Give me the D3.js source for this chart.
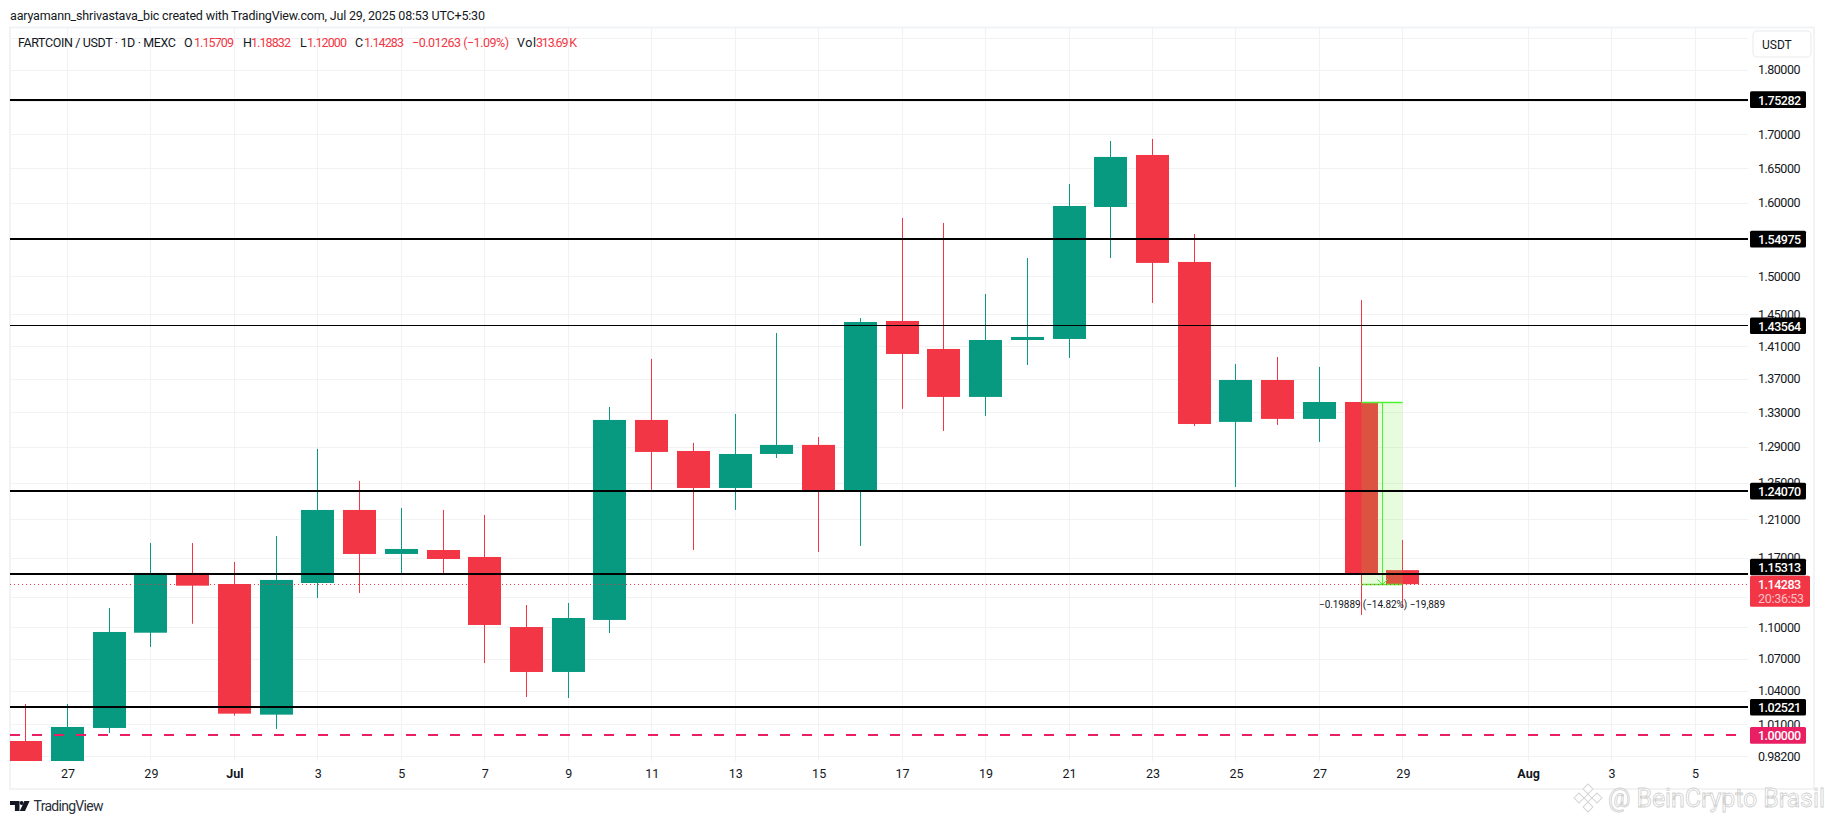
<!DOCTYPE html>
<html>
<head>
<meta charset="utf-8">
<script src="https://cdn.jsdelivr.net/npm/d3@7"></script>
<style>
  html, body { margin: 0; padding: 0; background: #fff; }
  svg { display: block; font-family: Roboto, sans-serif; }
</style>
</head>
<body>
<svg id="chart" width="1825" height="824"></svg>
<script>
const dates = [
  '2025-06-26', '2025-06-27', '2025-06-28', '2025-06-29', '2025-06-30', '2025-07-01', '2025-07-02',
  '2025-07-03', '2025-07-04', '2025-07-05', '2025-07-06', '2025-07-07', '2025-07-08', '2025-07-09',
  '2025-07-10', '2025-07-11', '2025-07-12', '2025-07-13', '2025-07-14', '2025-07-15', '2025-07-16',
  '2025-07-17', '2025-07-18', '2025-07-19', '2025-07-20', '2025-07-21', '2025-07-22', '2025-07-23',
  '2025-07-24', '2025-07-25', '2025-07-26', '2025-07-27', '2025-07-28', '2025-07-29'
]
const opens = [
  0.9951, 0.953, 1.0066, 1.0949, 1.1542, 1.143, 1.0185,
  1.144, 1.2202, 1.1737, 1.1778, 1.1706, 1.1004, 1.0576,
  1.1073, 1.3211, 1.2854, 1.2441, 1.282, 1.2923, 1.2408,
  1.4417, 1.4065, 1.3482, 1.4177, 1.419, 1.5943, 1.6692,
  1.5188, 1.3188, 1.3685, 1.3223, 1.3422, 1.15709
]
const highs = [
  1.0281, 1.0281, 1.119, 1.1851, 1.1851, 1.1654, 1.1925,
  1.2877, 1.2519, 1.2223, 1.2202, 1.2148, 1.122, 1.124,
  1.3363, 1.3942, 1.2946, 1.3281, 1.4265, 1.3014, 1.4455,
  1.5789, 1.572, 1.4765, 1.5241, 1.627, 1.69, 1.693,
  1.5568, 1.388, 1.3966, 1.3844, 1.4687, 1.18832
]
const lows = [
  0.9446, 0.9446, 1.0021, 1.0812, 1.1036, 1.0176, 1.0057,
  1.129, 1.134, 1.1531, 1.1531, 1.066, 1.0345, 1.0336,
  1.0946, 1.242, 1.1778, 1.2202, 1.2775, 1.1758, 1.182,
  1.334, 1.3083, 1.3258, 1.3868, 1.3954, 1.5241, 1.4648,
  1.3141, 1.2452, 1.3153, 1.2957, 1.1122, 1.12
]
const closes = [
  0.953, 1.0075, 1.0956, 1.1542, 1.1413, 1.0194, 1.1471,
  1.2202, 1.1737, 1.1789, 1.1685, 1.1024, 1.0576, 1.1092,
  1.3211, 1.2843, 1.2441, 1.282, 1.2923, 1.2408, 1.4404,
  1.4003, 1.3482, 1.4177, 1.4215, 1.5957, 1.6663, 1.5175,
  1.3164, 1.3685, 1.3223, 1.3422, 1.1531, 1.14283
]

const priceTicks = [
  0.982, 1.01, 1.04, 1.07, 1.1, 1.13, 1.17, 1.21, 1.25, 1.29, 1.33,
  1.37, 1.41, 1.45, 1.5, 1.55, 1.6, 1.65, 1.7, 1.75, 1.8, 1.85
]
// these ticks keep their grid line but their label sits fully behind a tag
const hiddenTickLabels = [1.13, 1.55, 1.75, 1.85]
const dateTicks = [
  '2025-06-27', '2025-06-29', '2025-07-01', '2025-07-03', '2025-07-05', '2025-07-07', '2025-07-09',
  '2025-07-11', '2025-07-13', '2025-07-15', '2025-07-17', '2025-07-19', '2025-07-21', '2025-07-23',
  '2025-07-25', '2025-07-27', '2025-07-29', '2025-08-01', '2025-08-03', '2025-08-05'
]

const levels = [1.75282, 1.54975, 1.43564, 1.2407, 1.15313, 1.02521]
const lastPrice = 1.14283
const countdown = '20:36:53'
const psychLevel = 1

const measureFrom = 1.34172
const measureTo = 1.14283
const measureDates = ['2025-07-28', '2025-07-29']
const measureLabel = '\u22120.19889 (\u221214.82%) \u221219,889'

const legendLabels = [
  'O', '1.15709', 'H', '1.18832', 'L', '1.12000', 'C', '1.14283',
  '\u22120.01263 (\u22121.09%)', 'Vol', '313.69 K'
]

// layout and styles
const RED = '#F23645'
const GREEN = '#089981'
const GRID = '#f1f2f4'
const TEXT = '#131722'
const PINK = '#E91E63'
const MEASURE = '#4df22f'
const plotLeft = 10, plotRight = 1748, plotTop = 27, plotBottom = 761
const levelWeights = [2, 2, 1, 2, 2, 2]
const levelTagShift = [0, 0, 0, 0, -7, 0] // tag is pushed up clear of the last price tag
const legendX = [184, 194, 243, 251, 300, 307, 355, 364, 412, 517, 536]
const legendW = [9, 40, 8, 40, 6, 40, 8, 40, 97, 19, 41]
const legendRed = [1, 3, 5, 7, 8, 10]

const parse = d3.utcParse('%Y-%m-%d')

const x = d3.scaleUtc()
  .domain([parse('2025-06-26'), parse('2025-08-01')])
  .range([25.2, 1527.6])
const y = d3.scaleLog()
  .domain([0.982, 1.8])
  .range([756, 69.5])

const candles = dates.map((d, i) => ({
  date: parse(d), o: opens[i], h: highs[i], l: lows[i], c: closes[i]
}))

const svg = d3.select('#chart')

svg.append('defs').append('clipPath').attr('id', 'plot')
  .append('rect')
  .attr('x', plotLeft).attr('y', plotTop)
  .attr('width', plotRight - plotLeft).attr('height', plotBottom - plotTop)

// outer frame
svg.append('rect')
  .attr('x', 10).attr('y', 27.5)
  .attr('width', 1804).attr('height', 761.5)
  .attr('fill', 'none')
  .attr('stroke', '#f2f3f5')
  .attr('stroke-width', 2)

// grid
const grid = svg.append('g').attr('clip-path', 'url(#plot)')
grid.selectAll('.h').data(priceTicks).enter().append('line')
  .attr('x1', plotLeft).attr('x2', plotRight)
  .attr('y1', d => Math.round(y(d)) + 0.5).attr('y2', d => Math.round(y(d)) + 0.5)
  .attr('stroke', GRID)
grid.selectAll('.v').data(dateTicks).enter().append('line')
  .attr('y1', plotTop).attr('y2', plotBottom)
  .attr('x1', d => Math.round(x(parse(d))) + 0.5).attr('x2', d => Math.round(x(parse(d))) + 0.5)
  .attr('stroke', GRID)

// candles
const plot = svg.append('g').attr('clip-path', 'url(#plot)')
const colour = d => (d.c >= d.o ? GREEN : RED)
plot.selectAll('.wick').data(candles).enter().append('line')
  .attr('class', 'wick')
  .attr('x1', d => Math.round(x(d.date)) + 0.5).attr('x2', d => Math.round(x(d.date)) + 0.5)
  .attr('y1', d => y(d.h)).attr('y2', d => y(d.l))
  .attr('stroke', colour)
plot.selectAll('.body').data(candles).enter().append('rect')
  .attr('class', 'body')
  .attr('x', d => Math.round(x(d.date)) - 16)
  .attr('width', 33)
  .attr('y', d => y(Math.max(d.o, d.c)))
  .attr('height', d => y(Math.min(d.o, d.c)) - y(Math.max(d.o, d.c)))
  .attr('fill', colour)

// measure tool
const mx1 = Math.round(x(parse(measureDates[0]))) + 0.5
const mx2 = Math.round(x(parse(measureDates[1]))) + 0.5
const mid = Math.floor((mx1 + mx2) / 2) + 0.5
const my1 = Math.round(y(measureFrom)) + 0.5
const my2 = Math.round(y(measureTo)) + 0.5
const measure = svg.append('g')
measure.append('rect')
  .attr('x', mx1).attr('y', my1)
  .attr('width', mx2 - mx1).attr('height', my2 - my1)
  .attr('fill', 'rgba(110,240,50,0.17)')
measure.selectAll('line.edge').data([my1, my2]).enter().append('line')
  .attr('x1', mx1).attr('x2', mx2)
  .attr('y1', d => d).attr('y2', d => d)
  .attr('stroke', MEASURE)
  .attr('stroke-width', 1.5)
measure.append('line')
  .attr('x1', mid).attr('x2', mid)
  .attr('y1', my1).attr('y2', my2)
  .attr('stroke', MEASURE)
measure.append('path')
  .attr('d', d3.line()([[mid - 5, my2 - 5], [mid, my2], [mid + 5, my2 - 5]]))
  .attr('fill', 'none')
  .attr('stroke', MEASURE)
measure.append('text')
  .attr('x', 1319).attr('y', my2 + 20)
  .attr('dominant-baseline', 'central')
  .attr('textLength', 126)
  .attr('font-size', 10)
  .attr('fill', TEXT)
  .text(measureLabel)

// levels
const crisp = (v, w) => (w % 2 ? Math.floor(v) + 0.5 : Math.round(v))
svg.selectAll('.level').data(levels).enter().append('line')
  .attr('class', 'level')
  .attr('x1', plotLeft).attr('x2', plotRight)
  .attr('y1', (d, i) => crisp(y(d), levelWeights[i]))
  .attr('y2', (d, i) => crisp(y(d), levelWeights[i]))
  .attr('stroke', '#000')
  .attr('stroke-width', (d, i) => levelWeights[i])
svg.append('line')
  .attr('x1', plotLeft).attr('x2', plotRight)
  .attr('y1', crisp(y(lastPrice), 1)).attr('y2', crisp(y(lastPrice), 1))
  .attr('stroke', RED)
  .attr('stroke-dasharray', '1,3')
svg.append('line')
  .attr('x1', plotLeft).attr('x2', plotRight)
  .attr('y1', crisp(y(psychLevel), 2)).attr('y2', crisp(y(psychLevel), 2))
  .attr('stroke', PINK)
  .attr('stroke-width', 2)
  .attr('stroke-dasharray', '10,12')

// price axis
const priceAxis = d3.axisRight(y)
  .tickValues(priceTicks.filter(d => !hiddenTickLabels.includes(d)))
  .tickFormat(d3.format('.5f'))
  .tickSize(0)
  .tickPadding(0)
const axisG = svg.append('g')
  .attr('transform', 'translate(1758,0)')
  .call(priceAxis)
axisG.select('.domain').remove()
axisG.selectAll('text')
  .attr('font-family', 'Roboto, sans-serif')
  .attr('font-size', 12.5)
  .attr('letter-spacing', '-0.5')
  .attr('fill', TEXT)

// time axis
const dateLabel = d => {
  const t = d3.utcFormat('%-d')(d)
  if (t === '1') return d3.utcFormat('%b')(d)
  return t
}
const timeAxis = d3.axisBottom(x)
  .tickValues(dateTicks.map(parse))
  .tickFormat(dateLabel)
  .tickSize(0)
  .tickPadding(0)
const timeG = svg.append('g')
  .attr('transform', 'translate(0.5,769.5)')
  .call(timeAxis)
timeG.select('.domain').remove()
timeG.selectAll('text')
  .attr('font-family', 'Roboto, sans-serif')
  .attr('font-size', 12.5)
  .attr('font-weight', d => (d.getUTCDate() === 1 ? 700 : 400))
  .attr('fill', TEXT)

// value tags on the price axis
const tag = (value, fill, shift) => {
  const cy = y(value) + shift
  svg.append('rect')
    .attr('x', 1750).attr('y', cy - 8.3)
    .attr('width', 56).attr('height', 16.6)
    .attr('rx', 1.5)
    .attr('fill', fill)
  svg.append('text')
    .attr('x', 1758).attr('y', cy + 0.5)
    .attr('dominant-baseline', 'central')
    .attr('font-size', 12.5)
    .attr('font-weight', 500)
    .attr('letter-spacing', '-0.5')
    .attr('fill', '#fff')
    .text(d3.format('.5f')(value))
}
levels.forEach((d, i) => tag(d, '#000', levelTagShift[i]))
tag(psychLevel, PINK, 0)

const lastY = y(lastPrice)
svg.append('rect')
  .attr('x', 1750).attr('y', lastY - 8.5)
  .attr('width', 60).attr('height', 31)
  .attr('rx', 1.5)
  .attr('fill', RED)
svg.append('text')
  .attr('x', 1758).attr('y', lastY + 0.5)
  .attr('dominant-baseline', 'central')
  .attr('font-size', 12.5)
  .attr('font-weight', 500)
  .attr('letter-spacing', '-0.5')
  .attr('fill', '#fff')
  .text(d3.format('.5f')(lastPrice))
svg.append('text')
  .attr('x', 1758).attr('y', lastY + 14)
  .attr('dominant-baseline', 'central')
  .attr('font-size', 12.5)
  .attr('letter-spacing', '-0.3')
  .attr('fill', 'rgba(255,255,255,0.7)')
  .text(countdown)

// currency button
svg.append('rect')
  .attr('x', 1753).attr('y', 31)
  .attr('width', 58).attr('height', 26)
  .attr('rx', 4)
  .attr('fill', '#fff')
  .attr('stroke', '#f0f1f4')
  .attr('stroke-width', 1.5)
svg.append('text')
  .attr('x', 1762).attr('y', 44.5)
  .attr('dominant-baseline', 'central')
  .attr('font-size', 12)
  .attr('fill', TEXT)
  .text('USDT')

// header and legend
svg.append('text')
  .attr('x', 10).attr('y', 15)
  .attr('dominant-baseline', 'central')
  .attr('textLength', 475)
  .attr('font-size', 12.5)
  .attr('fill', TEXT)
  .text('aaryamann_shrivastava_bic created with TradingView.com, Jul 29, 2025 08:53 UTC+5:30')
svg.append('text')
  .attr('x', 18).attr('y', 42)
  .attr('dominant-baseline', 'central')
  .attr('textLength', 158)
  .attr('font-size', 12.5)
  .attr('fill', TEXT)
  .text('FARTCOIN / USDT \u00b7 1D \u00b7 MEXC')
svg.selectAll('.legend').data(legendLabels).enter().append('text')
  .attr('class', 'legend')
  .attr('x', (d, i) => legendX[i]).attr('y', 42)
  .attr('dominant-baseline', 'central')
  .attr('textLength', (d, i) => legendW[i])
  .attr('font-size', 12.5)
  .attr('fill', (d, i) => (legendRed.includes(i) ? RED : TEXT))
  .text(d => d)

// TradingView logo
svg.append('path')
  .attr('d', 'M10 801h9.5v10h-4.6v-6H10z M29.6 801l-4.6 10h-5.2l4.6-10z')
  .attr('fill', '#131722')
svg.append('circle')
  .attr('cx', 21.6).attr('cy', 803).attr('r', 2)
  .attr('fill', '#131722')
svg.append('text')
  .attr('x', 33.5).attr('y', 806)
  .attr('dominant-baseline', 'central')
  .attr('textLength', 70)
  .attr('font-size', 14)
  .attr('fill', '#2a2e39')
  .text('TradingView')

// watermark
const mark = svg.append('g').attr('transform', 'translate(1588,798)')
const diamonds = [[0, -9, 5], [-9, 0, 5], [9, 0, 5], [0, 9, 5], [0, 0, 3.5]]
mark.selectAll('rect').data(diamonds).enter().append('rect')
  .attr('x', d => d[0] - d[2] / 2 - 1)
  .attr('y', d => d[1] - d[2] / 2 - 1)
  .attr('width', d => d[2] + 2).attr('height', d => d[2] + 2)
  .attr('transform', d => `rotate(45 ${d[0]} ${d[1]})`)
  .attr('fill', '#fff')
  .attr('stroke', '#d4d4d4')
svg.append('text')
  .attr('x', 1608).attr('y', 798)
  .attr('dominant-baseline', 'central')
  .attr('textLength', 217)
  .attr('font-size', 25)
  .attr('fill', '#fff')
  .attr('stroke', '#cfcfcf')
  .attr('stroke-width', 0.8)
  .text('@ BeinCrypto Brasil')
</script>
</body>
</html>
